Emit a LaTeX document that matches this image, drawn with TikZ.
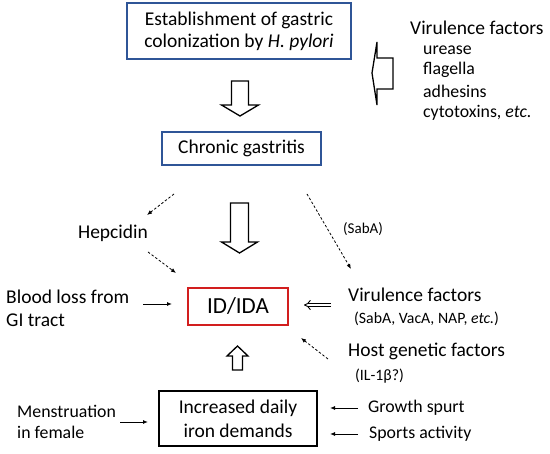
\documentclass[tikz,border=0pt]{standalone}
\usepackage{fontspec}
\setmainfont{Carlito}
\usetikzlibrary{arrows.meta}
\definecolor{boxblue}{RGB}{47,85,151}
\definecolor{boxred}{RGB}{210,30,30}
\newcommand\hollowvarrow[6]{%
  \draw[hollow] (#1-#5,#2) -- (#1+#5,#2) -- (#1+#5,#3) -- (#1+#6,#3) -- (#1,#4) -- (#1-#6,#3) -- (#1-#5,#3) -- cycle;}
\tikzset{
  main/.style={font=\fontsize{19.5}{22}\selectfont},
  mid/.style={font=\fontsize{17.8}{21}\selectfont},
  small/.style={font=\fontsize{15.8}{18}\selectfont},
  lbl/.style={main, inner sep=0pt, anchor=west, align=left},
  mlbl/.style={mid, inner sep=0pt, anchor=west, align=left},
  slbl/.style={small, inner sep=0pt, anchor=west},
  bluebox/.style={main, draw=boxblue, line width=1.8pt, align=center, inner sep=0pt},
  redbox/.style={draw=boxred, line width=1.8pt, inner sep=0pt, font=\fontsize{23}{26}\selectfont},
  blackbox/.style={draw=black, line width=1.3pt, align=center, inner sep=0pt, font=\fontsize{19.5}{24}\selectfont},
  hollow/.style={draw=black, line width=1.3pt, fill=white, line join=miter},
  thinarrow/.style={line width=0.9pt, -{Latex[length=5pt,width=4pt]}},
  dasharrow/.style={line width=0.8pt, dash pattern=on 2.5pt off 2pt, -{Latex[length=5pt,width=4pt]}},
}
\begin{document}
\begin{tikzpicture}[x=1pt,y=-1pt]
\useasboundingbox (0,0) rectangle (550,454);
% boxes
\node[bluebox, minimum width=224pt, minimum height=56pt] (b1) at (239,31)
  {Establishment of gastric\\colonization by \textit{H. pylori}};
\node[bluebox, minimum width=159pt, minimum height=33pt] (b2) at (241.5,148.5) {Chronic gastritis};
\node[redbox, minimum width=100pt, minimum height=37pt] (id) at (238,306.5) {ID/IDA};
\node[blackbox, minimum width=158pt, minimum height=55pt] (b3) at (238,418.5) {Increased daily\\iron demands};
% top right virulence factors
\node[lbl] (vf1) at (410,28) {Virulence factors};
\node[mlbl] (u1) at (423,50) {urease};
\node[mlbl] (u2) at (423,70) {flagella};
\node[mlbl] (u3) at (423,91) {adhesins};
\node[mlbl] (u4) at (423,113) {cytotoxins, \textit{etc.}};
\draw[hollow] (372,73) -- (377,42) -- (377,58) -- (393,58) -- (393,89) -- (377,89) -- (377,105) -- cycle;
% big hollow arrows
\hollowvarrow{240}{81}{105}{116}{8.5}{18.5}
\hollowvarrow{239.5}{203}{242}{253}{9}{18}
\hollowvarrow{237.5}{370}{356}{346}{5}{10.5}
% texts
\node[main, inner sep=0pt] (hep) at (113,233) {Hepcidin};
\node[slbl, font=\fontsize{15}{18}\selectfont] (saba) at (343,229) {(SabA)};
\node[lbl, font=\fontsize{19.5}{23}\selectfont] (blood) at (6,308.5) {Blood loss from\\GI tract};
\node[mlbl] (mens) at (17,421.5) {Menstruation\\in female};
\node[lbl] (vf2) at (348,295) {Virulence factors};
\node[slbl] (vf2s) at (354,319) {(SabA, VacA, NAP, \textit{etc.})};
\node[lbl] (host) at (348,351) {Host genetic factors};
\node[slbl] (hosts) at (355,376) {(IL-1β?)};
\node[mlbl] (grow) at (368,408) {Growth spurt};
\node[mlbl] (sport) at (369,434) {Sports activity};
% connector end points
\coordinate (d1s) at (174,194); \coordinate (d1e) at (147,215);
\coordinate (d2s) at (148,252); \coordinate (d2e) at (176,273);
\coordinate (d3s) at (307,194); \coordinate (d3e) at (351,269);
\coordinate (d4s) at (328,359); \coordinate (d4e) at (301,338);
\coordinate (bls) at (143,304); \coordinate (ble) at (172,304);
\coordinate (mns) at (120,422); \coordinate (mne) at (148,422);
\coordinate (grs) at (358,408); \coordinate (gre) at (330,408);
\coordinate (sps) at (358,434); \coordinate (spe) at (330,434);
\coordinate (vfs) at (331,305); \coordinate (vfe) at (304,305);
% connectors
\draw[dasharrow] (d1s) -- (d1e);
\draw[dasharrow] (d2s) -- (d2e);
\draw[dasharrow] (d3s) -- (d3e);
\draw[dasharrow] (d4s) -- (d4e);
\draw[thinarrow] (bls) -- (ble);
\draw[thinarrow] (mns) -- (mne);
\draw[thinarrow] (grs) -- (gre);
\draw[thinarrow] (sps) -- (spe);
\draw[line width=0.9pt, double distance=2.6pt, -{Implies}] (vfs) -- (vfe);
\end{tikzpicture}
\end{document}
